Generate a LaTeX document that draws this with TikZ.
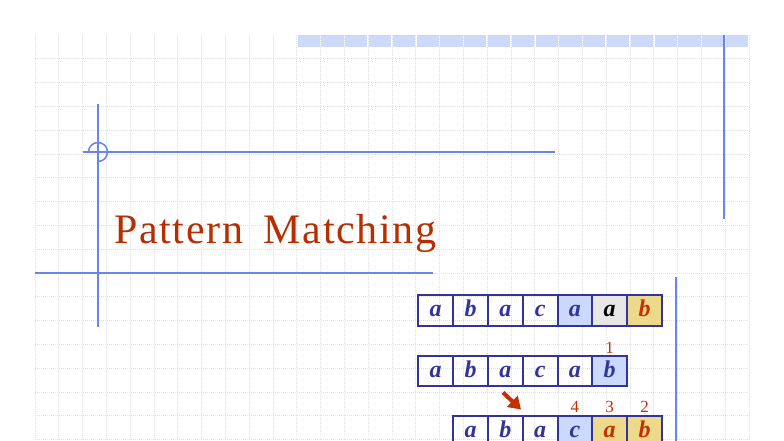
\documentclass[tikz,border=0pt]{standalone}
\usepackage{fontspec}
\setmainfont{Liberation Serif}
\usepackage{tikz}
\usetikzlibrary{arrows.meta, positioning}

\definecolor{gridcol}{RGB}{212,223,255}
\definecolor{bandcol}{RGB}{204,217,249}
\definecolor{rulecol}{RGB}{104,132,238}
\definecolor{navy}{RGB}{51,51,153}
\definecolor{cellblue}{RGB}{204,217,255}
\definecolor{cellgray}{RGB}{230,230,230}
\definecolor{cellyellow}{RGB}{236,217,140}
\definecolor{redtext}{RGB}{196,48,0}
\definecolor{titlecol}{RGB}{184,46,0}

\begin{document}
\begin{tikzpicture}[
    x=1pt, y=-1pt,
    gridline/.style={gridcol, line width=1pt, dash pattern=on 1pt off 1pt},
    rule/.style={rulecol, line width=1.5pt},
    cell/.style={rectangle, draw=navy, line width=2pt, outer sep=0pt, inner sep=0pt,
        minimum width=34.8pt, minimum height=30.7pt, text height=13pt, text depth=0pt,
        font=\fontsize{24}{24}\selectfont\bfseries\itshape, text=navy},
    steplabel/.style={font=\fontsize{17}{17}\selectfont, text=redtext, inner sep=1pt},
    arrow/.style={-{Triangle[length=12pt, width=15pt]}, line width=4pt, redtext},
]
\useasboundingbox (0,0) rectangle (784,441);

% Grid
\foreach \i in {0,...,30}
    \draw[gridline] (35+\i*23.8,35) -- (35+\i*23.8,441);
\foreach \j in {1,...,17}
    \draw[gridline] (35,35+\j*23.8) -- (749,35+\j*23.8);

% Top band
\foreach \i in {11,...,29}
    \fill[bandcol] (35.8+\i*23.8,35) rectangle (34.2+\i*23.8+23.8,47);

% Rules
\draw[rule] (98,104) -- (98,327);
\draw[rule] (83,152) -- (555,152);
\draw[rule] (88.5,152) arc[start angle=180, end angle=450, radius=9.5];
\draw[rule] (35,273) -- (433,273);
\draw[rule] (724,35) -- (724,219);
\draw[rule] (676,277) -- (676,441);

% Title
\node[anchor=base west, inner sep=0pt, text=titlecol,
      font=\fontsize{42}{42}\selectfont\addfontfeatures{LetterSpace=4}] (title) at (114,243)
      {Pattern\hspace{0.2em} Matching};

% Text
\node[cell] (t1) at (435.7,310.3) {a};
\node[cell, right=0pt of t1] (t2) {b};
\node[cell, right=0pt of t2] (t3) {a};
\node[cell, right=0pt of t3] (t4) {c};
\node[cell, right=0pt of t4, fill=cellblue] (t5) {a};
\node[cell, right=0pt of t5, fill=cellgray, text=black] (t6) {a};
\node[cell, right=0pt of t6, fill=cellyellow, text=redtext] (t7) {b};

% Pattern, first try
\node[cell, below=30pt of t1] (p1) {a};
\node[cell, right=0pt of p1] (p2) {b};
\node[cell, right=0pt of p2] (p3) {a};
\node[cell, right=0pt of p3] (p4) {c};
\node[cell, right=0pt of p4] (p5) {a};
\node[cell, right=0pt of p5, fill=cellblue] (p6) {b};
\node[steplabel, above=1pt of p6] (n1) {1};

% Pattern, shifted
\node[cell, below=29.7pt of p2] (q1) {a};
\node[cell, right=0pt of q1] (q2) {b};
\node[cell, right=0pt of q2] (q3) {a};
\node[cell, right=0pt of q3, fill=cellblue] (q4) {c};
\node[cell, right=0pt of q4, fill=cellyellow, text=redtext] (q5) {a};
\node[cell, right=0pt of q5, fill=cellyellow, text=redtext] (q6) {b};
\node[steplabel, above=2pt of q4] (n4) {4};
\node[steplabel, above=2pt of q5] (n3) {3};
\node[steplabel, above=2pt of q6] (n2) {2};

% Shift arrow
\coordinate (from) at (503,392.5);
\coordinate (to) at (521,409.5);
\draw[arrow] (from) -- (to);

\end{tikzpicture}
\end{document}
